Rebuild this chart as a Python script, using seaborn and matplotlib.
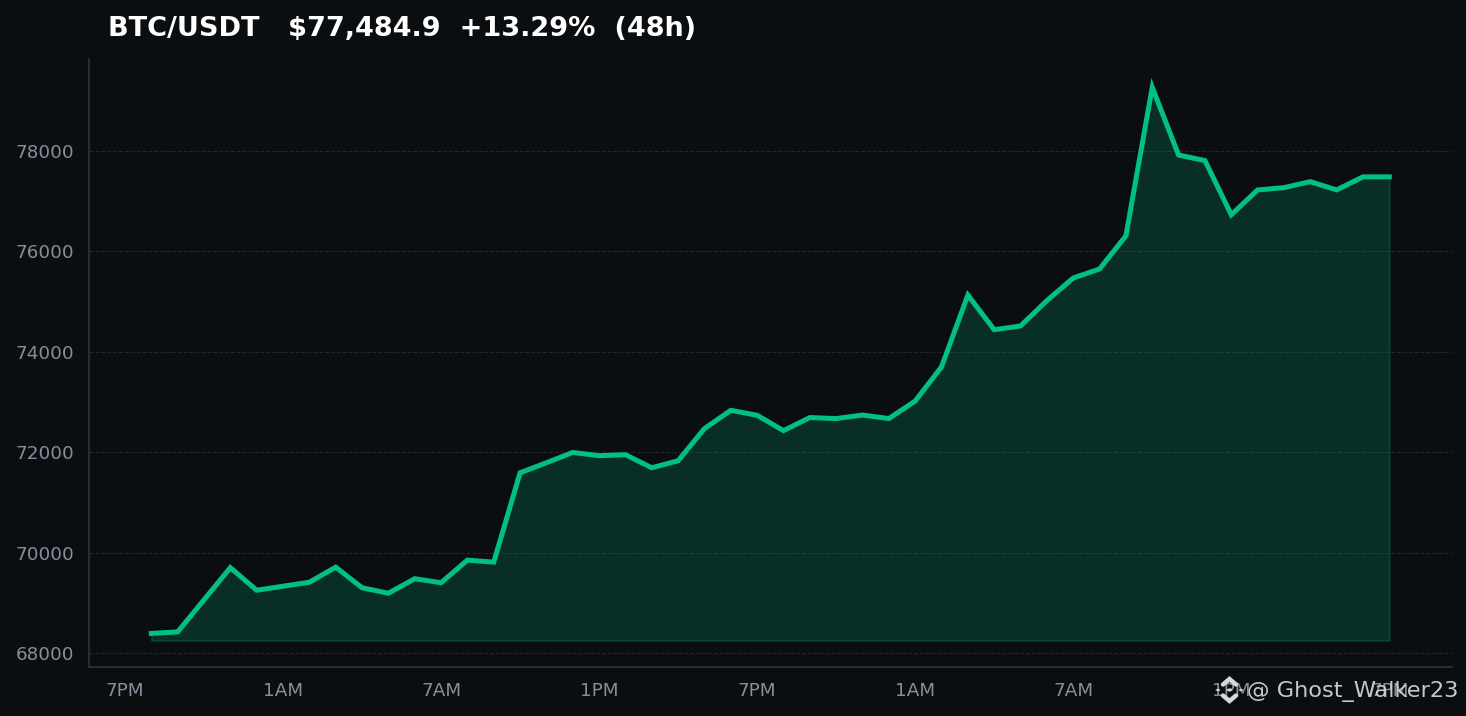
import matplotlib
matplotlib.use("Agg")
import matplotlib.pyplot as plt
from matplotlib.lines import Line2D
from matplotlib.patches import RegularPolygon
import pandas as pd
import seaborn as sns

# hours since the 7PM tick
hours = [1, 2, 3, 4, 5, 6, 7, 8, 9, 10, 11, 12, 13, 14, 15, 16,
         17, 18, 19, 20, 21, 22, 23, 24, 25, 26, 27, 28, 29, 30, 31, 32,
         33, 34, 35, 36, 37, 38, 39, 40, 41, 42, 43, 44, 45, 46, 47, 48]
price = [68390, 68420, 69060, 69700, 69250, 69330, 69410, 69710,
         69300, 69190, 69480, 69400, 69850, 69810, 71590, 71790,
         71995, 71930, 71950, 71690, 71830, 72470, 72835, 72735,
         72430, 72690, 72670, 72740, 72670, 73020, 73700, 75130,
         74440, 74515, 75020, 75470, 75650, 76310, 79270, 77920,
         77810, 76730, 77225, 77270, 77390, 77225, 77485, 77485]
fill_base = 68250

tick_hours = [0, 6, 12, 18, 24, 30, 36, 42, 48]
tick_labels = ["7PM", "1AM", "7AM", "1PM", "7PM", "1AM", "7AM", "1PM", "7PM"]
y_ticks = [68000, 70000, 72000, 74000, 76000, 78000]

BG = "#0b0e11"
GREEN = "#00c087"
GRID = "#2b3139"
MUTED = "#848e9c"
MARK = "#d6d8da"

sns.set_theme(style="dark", rc={"figure.facecolor": BG, "axes.facecolor": BG})
plt.rcParams["font.family"] = ["DejaVu Sans"]

df = pd.DataFrame({"hour": hours, "price": price})

fig = plt.figure(figsize=(14.66, 7.16), dpi=100)
ax = fig.add_axes([88.5 / 1466, 1 - 667 / 716, (1452 - 88.5) / 1466, (667 - 59) / 716])

ax.fill_between(df["hour"], df["price"], fill_base, color=GREEN, alpha=0.18, lw=1.5)
sns.lineplot(data=df, x="hour", y="price", ax=ax, color=GREEN, linewidth=3.6,
             errorbar=None, solid_joinstyle="miter", solid_capstyle="projecting")

ax.set_xlim(-1.385, 50.38)
ax.set_ylim(67721, 79833)
ax.set_xticks(tick_hours, tick_labels)
ax.set_yticks(y_ticks)
ax.set_xlabel("")
ax.set_ylabel("")
ax.grid(axis="y", color=GRID, linestyle="--", linewidth=0.8, alpha=0.7)
ax.grid(axis="x", visible=False)
ax.tick_params(colors=MUTED, labelsize=13.2, length=5, width=1, color=GRID, pad=5.5)
ax.tick_params(axis="x", color="#4a5059", pad=6)
for side in ["top", "right"]:
    ax.spines[side].set_visible(False)
for side in ["left", "bottom"]:
    ax.spines[side].set_color(GRID)
    ax.spines[side].set_linewidth(1.3)

fig.text(108 / 1466, 1 - 28.5 / 716, "BTC/USDT   $77,484.9  +13.29%  (48h)",
         color="white", fontsize=19.5, fontweight="bold", va="center", ha="left")

# watermark: text plus the small diamond logo, placed in pixels
fig.text(1458 / 1466, 1 - 691 / 716, "@ Ghost_Walker23", color=MARK, alpha=0.92,
         fontsize=16.2, va="center", ha="right")


def px(x, y):
    return x / 1466, 1 - y / 716


for cx, r in [(1229.5, 3.6), (1218, 2.8), (1241, 2.8)]:
    fig.add_artist(RegularPolygon(px(cx, 690), 4, radius=r / 1466,
                                  transform=fig.transFigure, color=MARK, lw=0))
for sign in [-1, 1]:
    xs = [1223, 1229.5, 1236]
    ys = [690 + sign * 5.5, 690 + sign * 11, 690 + sign * 5.5]
    pts = [px(a, b) for a, b in zip(xs, ys)]
    fig.add_artist(Line2D([p[0] for p in pts], [p[1] for p in pts], color=MARK, lw=3.2,
                          transform=fig.transFigure, solid_joinstyle="miter"))

fig.savefig("out.png", dpi=100, facecolor=BG)
